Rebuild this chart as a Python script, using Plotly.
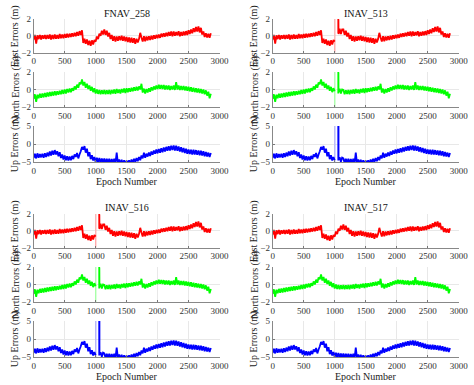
import plotly.graph_objects as go

# ---------------- data (epoch step 20) ----------------
epochs = list(range(0, 2880, 20))  # 0 .. 2860

east_fnav = [
    -0.45, 0.1, -0.95, 0.05, -0.4, 0.1, -0.45, 0.05, -0.35, 0.1,
    -0.4, 0.1, -0.35, 0.15, -0.45, 0.1, -0.4, 0.15, -0.35, 0.1,
    -0.35, 0.2, -0.3, 0.15, -0.3, 0.2, -0.25, 0.25, -0.2, 0.25,
    -0.15, 0.3, -0.1, 0.35, -0.05, 0.45, 0.0, 0.55, 0.1, 0.65,
    -0.85, -0.35, -0.95, -0.45, -1.1, -0.6, -1.2, -0.55, -1.05, -0.5,
    -0.7, -0.1, -0.4, 0.25, 0.0, 0.6, 0.15, 0.75, 0.1, 0.6,
    -0.1, 0.35, -0.4, 0.1, -0.6, -0.05, -0.7, -0.1, -0.6, -0.05,
    -0.55, 0.0, -0.6, -0.1, -0.65, -0.15, -0.75, -0.2, -0.8, -0.25,
    -0.85, -0.3, -0.95, -0.35, -0.8, -0.4, 0.35, -0.2, -0.7, -0.05,
    -0.65, -0.1, -0.55, -0.05, -0.5, 0.0, -0.45, 0.05, -0.35, 0.1,
    -0.3, 0.15, -0.25, 0.25, -0.15, 0.3, -0.1, 0.35, -0.05, 0.45,
    0.0, 0.5, -0.05, 0.5, 0.0, 0.45, 0.05, 0.55, -0.05, 0.45,
    0.0, 0.5, 0.05, 0.55, 0.1, 0.65, 0.2, 0.75, 0.3, 0.9,
    0.45, 1.05, 0.5, 1.1, 0.4, 0.95, 0.15, 0.5, -0.15, 0.3,
    -0.2, 0.25, -0.25, 0.3,
]

north_fnav = [
    -1.05, -0.55, -1.4, -0.6, -1.0, -0.5, -0.95, -0.45, -0.9, -0.4,
    -0.85, -0.35, -0.8, -0.3, -0.75, -0.25, -0.7, -0.2, -0.65, -0.2,
    -0.6, -0.15, -0.55, -0.05, -0.5, 0.0, -0.45, 0.05, -0.35, 0.1,
    -0.3, 0.15, -0.15, 0.35, 0.0, 0.55, 0.2, 0.8, 0.6, 1.15,
    0.45, 0.85, 0.2, 0.65, 0.05, 0.45, -0.15, 0.3, -0.3, 0.15,
    -0.45, 0.0, -0.5, -0.05, -0.55, -0.1, -0.5, -0.05, -0.55, -0.1,
    -0.5, -0.05, -0.55, -0.05, -0.45, 0.0, -0.5, 0.05, -0.4, 0.0,
    -0.45, 0.05, -0.35, 0.1, -0.4, 0.15, -0.3, 0.15, -0.25, 0.2,
    -0.2, 0.25, -0.15, 0.3, -0.1, 0.35, 0.0, 0.65, -0.35, 0.1,
    -0.45, 0.05, -0.35, 0.15, -0.25, 0.25, -0.1, 0.35, 0.0, 0.45,
    0.05, 0.55, 0.1, 0.5, 0.05, 0.5, 0.0, 0.45, 0.0, 0.45,
    -0.05, 0.4, 0.0, 0.45, -0.05, 0.85, 0.0, 0.45, -0.05, 0.4,
    -0.05, 0.4, -0.1, 0.35, -0.15, 0.3, -0.2, 0.25, -0.25, 0.2,
    -0.3, 0.15, -0.35, 0.1, -0.4, 0.05, -0.45, 0.0, -0.55, -0.1,
    -0.7, -0.25, -1.0, -0.5,
]

up_fnav = [
    -3.9, -2.7, -4.0, -2.6, -3.8, -2.8, -3.7, -2.7, -3.8, -2.6,
    -3.6, -2.4, -3.4, -2.1, -3.2, -1.9, -3.0, -1.7, -2.9, -2.0,
    -3.4, -2.3, -3.9, -2.9, -4.3, -3.2, -4.5, -3.4, -4.6, -3.5,
    -4.5, -3.3, -4.2, -2.9, -3.6, -2.5, -4.0, -2.9, -2.0, -0.8,
    -1.6, -0.6, -2.4, -1.3, -3.4, -2.3, -4.2, -3.1, -4.6, -3.6,
    -5.0, -3.8, -5.1, -3.9, -5.2, -4.0, -5.2, -4.0, -5.3, -4.1,
    -5.3, -4.1, -5.4, -4.2, -5.3, -4.1, -5.4, -2.4, -5.4, -4.3,
    -5.5, -4.4, -5.6, -4.5, -5.7, -4.6, -5.6, -4.5, -5.5, -4.3,
    -5.2, -4.1, -5.0, -3.9, -4.8, -3.6, -4.5, -3.2, -4.0, -2.4,
    -3.8, -2.7, -3.5, -2.4, -3.3, -2.1, -3.0, -1.8, -2.7, -1.5,
    -2.6, -1.4, -2.4, -1.2, -2.3, -1.0, -2.1, -0.8, -1.9, -0.6,
    -1.8, -0.5, -1.7, -0.4, -1.8, -0.5, -1.9, -0.7, -2.1, -0.9,
    -2.3, -1.1, -2.5, -1.3, -2.7, -1.5, -2.8, -1.6, -2.9, -1.6,
    -2.9, -1.7, -3.0, -1.8, -3.1, -1.9, -3.2, -2.0, -3.4, -2.2,
    -3.5, -2.4, -3.6, -2.5,
]

# INAV_513 / INAV_516: outage around epoch 1000-1056 (values leave the axis range)
jump_epochs = [1000, 1002, 1004]          # first excursion (drawn faint)
east_jump = [-0.7, -30, 30]
north_jump = [-0.2, -30, 30]
up_jump = [-4.5, -30, 30]

resume_epochs = [1056, 1058, 1060, 1062, 1080, 1100, 1120]
east_resume = [30, 0.3, 1.9, 0.2, 0.85, 0.2, 0.75]
north_resume = [30, -0.45, 1.9, -0.3, 0.1, -0.45, 0.0]
up_resume = [30, -4.6, 30, -4.3, -3.7, -4.9, -3.8]

epochs_inav = epochs[:50] + [1000, None] + resume_epochs + epochs[57:]
east_inav = east_fnav[:50] + [-0.7, None] + east_resume + east_fnav[57:]
north_inav = north_fnav[:50] + [-0.2, None] + north_resume + north_fnav[57:]
up_inav = up_fnav[:50] + [-4.5, None] + up_resume + up_fnav[57:]

titles = ["FNAV_258", "INAV_513", "INAV_516", "INAV_517"]
panel_x = [epochs, epochs_inav, epochs_inav, epochs]
panel_east = [east_fnav, east_inav, east_inav, east_fnav]
panel_north = [north_fnav, north_inav, north_inav, north_fnav]
panel_up = [up_fnav, up_inav, up_inav, up_fnav]
panel_has_jump = [False, True, True, False]
jump_series = [east_jump, north_jump, up_jump]

comp_labels = ["East Errors (m)", "North Errors (m)", "Up Errors (m)"]
comp_colors = ["#ff0000", "#00ff00", "#0000ff"]
comp_faint = ["#ffaaaa", "#a8ffa8", "#aaaaff"]
comp_ranges = [[-2, 2], [-2, 2], [-5, 5]]
comp_ticks = [[-2, 0, 2], [-2, 0, 2], [-5, 0, 5]]
x_ticks = [0, 500, 1000, 1500, 2000, 2500, 3000]

# ---------------- layout geometry (pixels) ----------------
W, H = 474, 385
col_px = [(33.7, 219.5), (272.7, 458.7)]
row_px = [(19, 52.5), (72, 107), (126, 162)]
row_offset = [0, 195]
FONT = "Liberation Serif, Times New Roman, serif"

fig = go.Figure()
layout = {}
annotations = []

for p in range(4):
    c = p % 2
    r = p // 2
    x0, x1 = col_px[c]
    series = [panel_east[p], panel_north[p], panel_up[p]]
    for k in range(3):
        n = p * 3 + k + 1
        xa = "x" if n == 1 else f"x{n}"
        ya = "y" if n == 1 else f"y{n}"
        xkey = "xaxis" if n == 1 else f"xaxis{n}"
        ykey = "yaxis" if n == 1 else f"yaxis{n}"
        top, bot = row_px[k]
        top += row_offset[r]
        bot += row_offset[r]
        if panel_has_jump[p]:
            fig.add_trace(go.Scatter(
                x=jump_epochs, y=jump_series[k], mode="lines",
                line=dict(color=comp_faint[k], width=1.2, simplify=False),
                xaxis=xa, yaxis=ya, showlegend=False, hoverinfo="skip",
            ))
        fig.add_trace(go.Scatter(
            x=panel_x[p], y=series[k], mode="lines", connectgaps=False,
            line=dict(color=comp_colors[k], width=1.8, simplify=False),
            xaxis=xa, yaxis=ya, showlegend=False, hoverinfo="skip",
        ))
        layout[xkey] = dict(
            domain=[x0 / W, x1 / W], anchor=ya, range=[0, 3000],
            automargin=False,
            tickvals=x_ticks, ticks="inside", ticklen=2, tickcolor="#777",
            showline=True, linecolor="#888", linewidth=1, mirror=False,
            showgrid=True, gridcolor="#e8e8e8", gridwidth=1, zeroline=False,
            tickfont=dict(family=FONT, size=9, color="#333"),
        )
        layout[ykey] = dict(
            domain=[1 - bot / H, 1 - top / H], anchor=xa, range=comp_ranges[k],
            automargin=False,
            tickvals=comp_ticks[k], ticks="inside", ticklen=2, tickcolor="#777",
            showline=True, linecolor="#888", linewidth=1,
            showgrid=True, gridcolor="#e8e8e8", gridwidth=1, zeroline=False,
            tickfont=dict(family=FONT, size=9, color="#333"),
        )
        annotations.append(dict(
            text=comp_labels[k], textangle=-90, xref="paper", yref="paper",
            x=(x0 - 18.5) / W, y=1 - ((top + bot) / 2) / H,
            xanchor="center", yanchor="middle", showarrow=False,
            font=dict(family=FONT, size=10, color="#222"),
        ))
    # title
    annotations.append(dict(
        text=titles[p], xref="paper", yref="paper",
        x=((x0 + x1) / 2) / W, y=1 - (13 + row_offset[r]) / H,
        xanchor="center", yanchor="middle", showarrow=False,
        font=dict(family=FONT, size=10, color="#111"),
    ))
    # x axis title
    annotations.append(dict(
        text="Epoch Number", xref="paper", yref="paper",
        x=((x0 + x1) / 2) / W, y=1 - (181 + row_offset[r]) / H,
        xanchor="center", yanchor="middle", showarrow=False,
        font=dict(family=FONT, size=10, color="#222"),
    ))

layout["annotations"] = annotations
fig.update_layout(**layout)
fig.update_layout(
    template="none",
    width=W, height=H, margin=dict(l=0, r=0, t=0, b=0, autoexpand=False),
    paper_bgcolor="white", plot_bgcolor="white", showlegend=False,
)
fig.write_html(
    "out.html",
    config={"displayModeBar": False, "staticPlot": True},
    post_script="document.body.style.margin='0px';document.body.style.overflow='hidden';",
)
